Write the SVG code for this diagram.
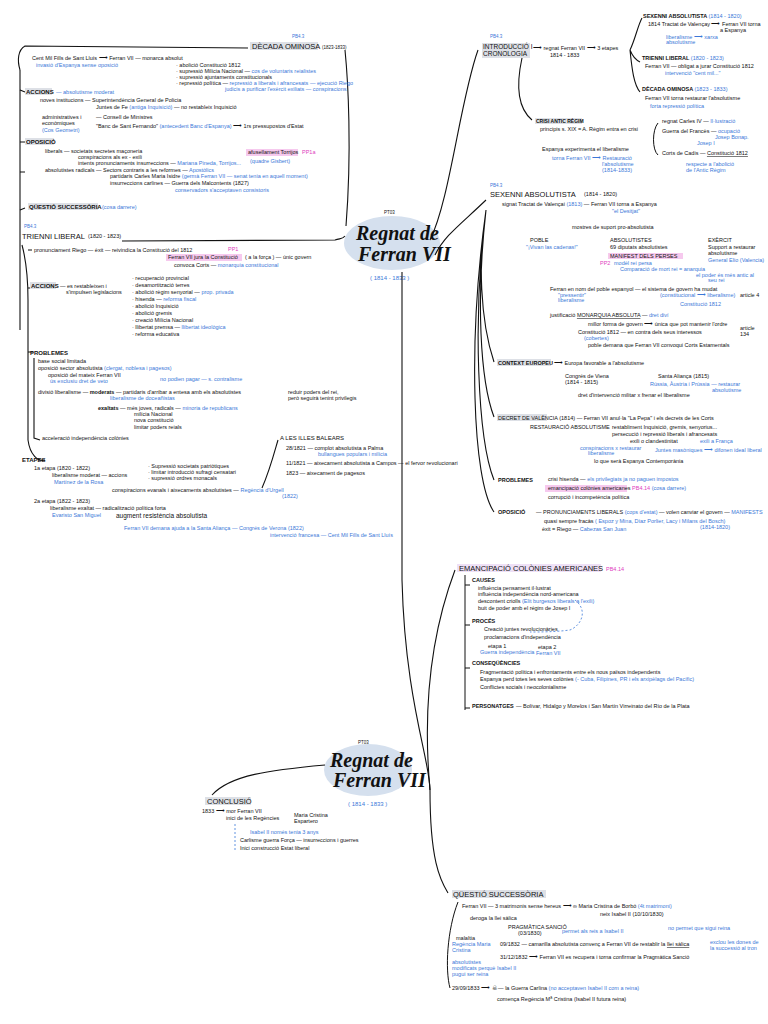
<svg xmlns="http://www.w3.org/2000/svg" width="768" height="1024" viewBox="0 0 768 1024">
<style>
text{font-family:"Liberation Sans",Arial,sans-serif;font-size:5.5px;fill:#111}
.b{fill:#3b78d8}
.p{fill:#e040c0}
.h{font-size:6px;font-weight:bold}
.h2{font-size:7.5px;font-weight:normal}
.t{font-family:"Liberation Serif",serif;font-size:20px;font-style:italic;font-weight:bold}
.c path,.c line{fill:none;stroke:#111;stroke-width:1.1}
.d{fill:none;stroke:#3b78d8;stroke-width:.8;stroke-dasharray:2 2}
.hl{fill:#dde0e6}
.hp{fill:#f6c9ee}
</style>
<rect width="768" height="1024" fill="#fff"/>
<g id="center1">
<ellipse cx="392" cy="243" rx="48" ry="27" fill="#d5e0ee"/>
<text x="384" y="214" style="font-size:4.5px">PT03</text>
<text class="t" x="356" y="240">Regnat de</text>
<text class="t" x="358" y="261">Ferran VII</text>
<text class="b" x="370" y="280" style="font-size:6px">( 1814 - 1833 )</text>
</g>
<g id="center2">
<ellipse cx="368" cy="770" rx="44" ry="26" fill="#d5e0ee"/>
<text x="358" y="744" style="font-size:4.5px">PT03</text>
<text class="t" x="330" y="767">Regnat de</text>
<text class="t" x="333" y="787">Ferran VII</text>
<text class="b" x="348" y="806" style="font-size:6px">( 1814 - 1833 )</text>
</g>
<g class="c" id="connectors">
<path d="M346 226 C352 150 348 80 345 50"/>
<path d="M248 48 L25 46 C18 50 17 60 20 70"/>
<path d="M20 70 L20 330"/>
<path d="M20 90 L25 92 M20 172 L25 172 M20 210 L25 208 M20 142 L25 142"/>
<path d="M345 236 C342 240 340 238 335 240 L122 241"/>
<path d="M22 245 C26 260 28 280 28 300 L28 440 C30 455 38 462 45 460"/>
<path d="M28 250 L32 250 M28 288 L35 288 M28 352 L33 352"/>
<path d="M34 358 L34 438 L40 440"/>
<path d="M430 240 C450 200 460 100 478 50"/>
<path d="M522 58 C515 90 520 110 532 120"/>
<path d="M630 50 C635 40 638 25 642 18 M630 50 C632 55 636 60 640 62 M630 50 C632 70 634 85 640 92"/>
<path d="M435 255 C445 235 460 225 486 200"/>
<path d="M486 210 C478 260 480 320 494 362 M486 210 C476 300 480 380 494 417 M486 210 C472 320 478 440 494 480 M486 210 C468 340 472 480 494 512"/>
<path d="M402 272 L402 580"/>
<path d="M402 580 C405 700 430 760 430 790"/>
<path d="M430 790 C420 680 440 610 455 570"/>
<path d="M430 790 C430 860 440 880 448 893"/>
<path d="M325 765 C270 770 230 775 212 795"/>
<path d="M262 488 C270 470 275 450 278 440"/>
</g>
<g id="decada">
<text x="292" y="38" class="b" style="font-size:4.5px">PB4.3</text>
<rect class="hl" x="250" y="42" width="68" height="8"/>
<text class="h2" x="252" y="49">DÈCADA OMINOSA</text>
<text x="322" y="49" style="font-size:4.5px">(1823-1833)</text>
<text x="32" y="60">Cent Mil Fills de Sant Lluís  ⟶  Ferran VII — monarca absolut</text>
<text class="b" x="36" y="67">invasió d'Espanya sense oposició</text>
<text x="176" y="67">· abolició Constitució 1812</text>
<text x="176" y="73">· supressió Milícia Nacional — <tspan class="b">cos de voluntaris reialistes</tspan></text>
<text x="176" y="79">· supressió ajuntaments constitucionals</text>
<text x="176" y="85">· repressió política — <tspan class="b">repressió a liberals i afrancesats — ejecució Riego</tspan></text>
<text class="b" x="225" y="91">judicis a purificar l'exèrcit    exiliats — conspiracions</text>
<rect class="hl" x="25" y="88" width="27" height="7"/>
<text class="h" x="26" y="94">ACCIONS</text>
<text class="b" x="56" y="94">— absolutisme moderat</text>
<text x="40" y="102">noves institucions — Superintendència General de Policia</text>
<text x="96" y="109">Juntes de Fe  <tspan class="b">(antiga Inquisició)</tspan> — no restableix Inquisició</text>
<text x="42" y="119">administratives i</text>
<text x="42" y="125">econòmiques</text>
<text x="96" y="119">— Consell de Ministres</text>
<text x="96" y="128">"Banc de Sant Fernando" <tspan class="b">(antecedent Banc d'Espanya)</tspan> ⟶ 1rs pressupostos d'Estat</text>
<text class="b" x="42" y="132">(Cos Geometri)</text>
<rect class="hl" x="25" y="138" width="29" height="7"/>
<text class="h" x="26" y="144">OPOSICIÓ</text>
<text x="45" y="153">liberals — societats secretes maçoneria</text>
<text x="78" y="159">conspiracions als ex - exili</text>
<text x="78" y="165">intents pronunciaments insurreccions — <tspan class="b">Mariana Pineda, Torrijos...</tspan></text>
<rect class="hp" x="246" y="149" width="52" height="7"/>
<text x="248" y="154">afusellament Torrijos</text>
<text class="p" x="302" y="154">PP1a</text>
<text class="b" x="250" y="163">(quadre Gisbert)</text>
<text x="45" y="172">absolutistes radicals — Sectors contraris a les reformes — <tspan class="b">Apostòlics</tspan></text>
<text x="110" y="178">partidaris Carles Maria Isidre  <tspan class="b">(germà Ferran VII — senat tenia en aquell moment)</tspan></text>
<text x="110" y="185">insurreccions carlines — Guerra dels Malcontents (1827)</text>
<text class="b" x="175" y="192">conservadors s'acceptaven consistoris</text>
<rect class="hl" x="28" y="203" width="70" height="7"/>
<text class="h" x="29" y="209">QÜESTIÓ SUCCESSÒRIA</text>
<text class="b" x="102" y="209">(cosa darrere)</text>
</g>
<g id="trienni">
<text x="24" y="228" class="b" style="font-size:4.5px">PB4.3</text>
<text class="h2" x="22" y="239">TRIENNI LIBERAL</text>
<text x="88" y="238">(1820 - 1823)</text>
<text x="34" y="252">pronunciament Riego — èxit — reivindica la Constitució del 1812</text>
<text class="p" x="228" y="251">PP1</text>
<rect class="hp" x="166" y="254" width="76" height="7"/>
<text x="168" y="259">Ferran VII jura la Constitució</text>
<text x="245" y="259">( a la força ) — únic govern</text>
<text x="174" y="267">convoca Corts — <tspan class="b">monarquia constitucional</tspan></text>
<rect class="hl" x="30" y="282" width="26" height="7"/>
<text class="h" x="31" y="288">ACCIONS</text>
<text x="60" y="288">— es restableixen i</text>
<text x="66" y="294">s'impulsen legislacions</text>
<text x="132" y="280">· recuperació provincial</text>
<text x="132" y="287">· desamortització terres</text>
<text x="132" y="294">· abolició règim senyorial — <tspan class="b">prop. privada</tspan></text>
<text x="132" y="301">· hisenda — <tspan class="b">reforma fiscal</tspan></text>
<text x="132" y="308">· abolició Inquisició</text>
<text x="132" y="315">· abolició gremis</text>
<text x="132" y="322">· creació Milícia Nacional</text>
<text x="132" y="329">· llibertat premsa — <tspan class="b">llibertat ideològica</tspan></text>
<text x="132" y="336">· reforma educativa</text>
<text class="h" x="30" y="355">PROBLEMES</text>
<text x="38" y="363">base social limitada</text>
<text x="38" y="370">oposició sector absolutista  <tspan class="b">(clergat, noblesa i pagesos)</tspan></text>
<text x="48" y="377">oposició del mateix Ferran VII</text>
<text class="b" x="50" y="383">ús exclusiu dret de veto</text>
<text class="b" x="160" y="381">no podien pagar — s. contralisme</text>
<text x="38" y="394">divisió liberalisme — <tspan style="font-weight:bold">moderats</tspan> — partidaris d'arribar a entesa amb els absolutistes</text>
<text class="b" x="110" y="400">liberalisme de doceañistas</text>
<text x="288" y="394">reduir poders del rei,</text>
<text x="288" y="400">però seguirà tenint privilegis</text>
<text x="98" y="410"><tspan style="font-weight:bold">exaltats</tspan> — més joves, radicals — <tspan class="b">minoria de republicans</tspan></text>
<text x="134" y="416">milícia Nacional</text>
<text x="134" y="422">nova constitució</text>
<text x="134" y="429">limitar poders reials</text>
<text x="42" y="440">acceleració independència colònies</text>
<text class="h" x="22" y="462">ETAPES</text>
<text x="34" y="470">1a etapa (1820 - 1822)</text>
<text x="52" y="477">liberalisme moderat — accions</text>
<text class="b" x="54" y="484">Martínez de la Rosa</text>
<text x="148" y="468">· Supressió societats patriòtiques</text>
<text x="148" y="474">· limitar introducció sufragi censatari</text>
<text x="148" y="480">· supressió ordres monacals</text>
<text x="112" y="492">conspiracions evanals i aixecaments absolutistes — <tspan class="b">Regència d'Urgell</tspan></text>
<text class="b" x="282" y="498">(1822)</text>
<text x="34" y="503">2a etapa (1822 - 1823)</text>
<text x="50" y="510">liberalisme exaltat — radicalització política forta</text>
<text class="b" x="52" y="517">Evaristo San Miguel</text>
<text x="116" y="518" style="font-size:6.5px">augment resistència absolutista</text>
<text class="b" x="124" y="530">Ferran VII demana ajuda a la Santa Aliança — Congrés de Verona (1822)</text>
<text class="b" x="270" y="537">intervenció francesa — Cent Mil Fills de Sant Lluís</text>
<text x="280" y="440" style="font-size:6px">A LES ILLES BALEARS</text>
<text x="286" y="450">28/1821 — complot absolutista a Palma</text>
<text class="b" x="318" y="456">bullangues populars i milícia</text>
<text x="286" y="465">11/1821 — aixecament absolutista a Campos — el fervor revolucionari</text>
<text x="286" y="475">1823 — aixecament de pagesos</text>
</g>
<g id="intro">
<text x="490" y="38" class="b" style="font-size:4.5px">PB4.3</text>
<rect class="hl" x="482" y="43" width="48" height="15"/>
<text x="483" y="49" style="font-size:6.5px">INTRODUCCIÓ I</text>
<text x="483" y="56" style="font-size:6.5px">CRONOLOGIA</text>
<text x="533" y="50">⟶ regnat Ferran VII ⟶ 3 etapes</text>
<text x="550" y="57">1814 - 1833</text>
<text class="h" x="643" y="18" style="font-size:5.5px">SEXENNI ABSOLUTISTA <tspan class="b" style="font-weight:normal">(1814 - 1820)</tspan></text>
<text x="648" y="26">1814 Tractat de Valençay ⟶ Ferran VII torna</text>
<text x="720" y="32">a Espanya</text>
<text class="b" x="666" y="39">liberalisme ⟶ xarxa</text>
<text class="b" x="666" y="44">absolutisme</text>
<text class="h" x="642" y="60" style="font-size:5.5px">TRIENNI LIBERAL <tspan class="b" style="font-weight:normal">(1820 - 1823)</tspan></text>
<text x="645" y="68">Ferran VII — obligat a jurar Constitució 1812</text>
<text class="b" x="665" y="75">intervenció "cent mil..."</text>
<text class="h" x="642" y="91" style="font-size:5.5px">DÈCADA OMINOSA <tspan class="b" style="font-weight:normal">(1823 - 1833)</tspan></text>
<text x="645" y="100">Ferran VII torna restaurar l'absolutisme</text>
<text class="b" x="650" y="108">forta repressió política</text>
<rect class="hl" x="535" y="118" width="47" height="6"/>
<text class="h" x="536" y="123" style="font-size:5px">CRISI ANTIC RÈGIM</text>
<text x="540" y="131">principis s. XIX = A. Règim entra en crisi</text>
<text x="542" y="151">Espanya experimenta el liberalisme</text>
<text class="b" x="552" y="160">torna Ferran VII ⟶ Restauració</text>
<text class="b" x="602" y="166">l'absolutisme</text>
<text class="b" x="602" y="172">(1814-1833)</text>
<text x="662" y="123">regnat Carles IV — <tspan class="b">Il·lustració</tspan></text>
<text x="662" y="133">Guerra del Francès — <tspan class="b">ocupació</tspan></text>
<text class="b" x="715" y="139">Josep Bonap.</text>
<text class="b" x="697" y="145">Josep I</text>
<text x="662" y="155">Corts de Cadis — <tspan style="text-decoration:underline">Constitució 1812</tspan></text>
<text class="b" x="686" y="166">respecte a l'abolició</text>
<text class="b" x="686" y="172">de l'Antic Règim</text>
<path fill="none" stroke="#111" d="M658 123 C652 130 652 150 658 155"/>
</g>
<g id="sexenni">
<text x="490" y="187" class="b" style="font-size:4.5px">PB4.3</text>
<text class="h2" x="490" y="197">SEXENNI ABSOLUTISTA</text>
<text x="584" y="196">(1814 - 1820)</text>
<text x="502" y="206">signat Tractat de Valençai <tspan class="b">(1813)</tspan> — Ferran VII torna a Espanya</text>
<text class="b" x="612" y="213">"el Desitjat"</text>
<text x="572" y="229">mostres de suport pro-absolutista</text>
<text x="530" y="242">POBLE</text>
<text class="b" x="526" y="249">"¡Vivan las cadenas!"</text>
<text x="610" y="242">ABSOLUTISTES</text>
<text x="610" y="249">69 diputats absolutistes</text>
<rect class="hp" x="608" y="253" width="75" height="6"/>
<text x="610" y="258">MANIFEST DELS PERSES</text>
<text class="p" x="600" y="265">PP2</text>
<text class="b" x="614" y="265">modèl rei persa</text>
<text class="b" x="620" y="271">Comparació de mort rei = anarquia</text>
<text class="b" x="696" y="277">el poder és més antic al</text>
<text class="b" x="708" y="282">seu rei</text>
<text x="708" y="242">EXÈRCIT</text>
<text x="708" y="249">Support a restaurar</text>
<text x="708" y="255">absolutisme</text>
<text class="b" x="708" y="262">General Elio (Valencia)</text>
<text x="550" y="291">Ferran en nom del poble espanyol — el sistema de govern ha mudat</text>
<text class="b" x="558" y="297">"pressentir"</text>
<text class="b" x="558" y="302">liberalisme</text>
<text class="b" x="660" y="297">(constitucional ⟶ liberalisme)</text>
<text class="b" x="680" y="306">Constitució 1812</text>
<text x="740" y="297">article 4</text>
<text x="550" y="317">justificació <tspan style="text-decoration:underline">MONARQUIA ABSOLUTA</tspan> — <tspan class="b">dret diví</tspan></text>
<text x="588" y="326">millor forma de govern ⟶ única que pot mantenir l'ordre</text>
<text x="578" y="334">Constitució 1812 — en contra dels seus interessos</text>
<text class="b" x="584" y="340">(cobertes)</text>
<text x="588" y="347">poble demana que Ferran VII convoqui Corts Estamentals</text>
<text x="740" y="330">article</text>
<text x="740" y="336">134</text>
<rect class="hl" x="497" y="359" width="54" height="7"/>
<text class="h" x="498" y="365" style="font-size:5.5px">CONTEXT EUROPEU</text>
<text x="554" y="365">⟶ Europa favorable a l'absolutisme</text>
<text x="565" y="378">Congrés de Viena</text>
<text x="565" y="384">(1814 - 1815)</text>
<text x="658" y="378">Santa Aliança (1815)</text>
<text class="b" x="650" y="386">Rússia, Àustria i Prússia — restaurar</text>
<text class="b" x="712" y="392">absolutisme</text>
<text x="578" y="397">dret d'intervenció militar x frenar el liberalisme</text>
<rect class="hl" x="497" y="414" width="50" height="7"/>
<text x="498" y="420">DECRET DE VALÈNCIA (1814) — Ferran VII anul·la "La Pepa" i els decrets de les Corts</text>
<text x="530" y="429">RESTAURACIÓ ABSOLUTISME</text>
<text x="612" y="429">restabliment Inquisició, gremis, senyorius...</text>
<text x="612" y="436">persecució i repressió liberals i afrancesats</text>
<text x="630" y="443">exili o clandestinitat</text>
<text class="b" x="700" y="443">exili a França</text>
<text class="b" x="580" y="450">conspiracions x restaurar</text>
<text class="b" x="588" y="455">liberalisme</text>
<text class="b" x="655" y="452">Juntes masòniques ⟶ difonen ideal liberal</text>
<text x="594" y="463">lo que serà Espanya Contemporània</text>
<text class="h" x="498" y="482" style="font-size:5.5px">PROBLEMES</text>
<text x="548" y="481">crisi hisenda — <tspan class="b">els privilegiats ja no paguen impostos</tspan></text>
<rect class="hp" x="545" y="485" width="82" height="7"/>
<text x="548" y="490">emancipació colònies americanes  <tspan class="p">PB4.14</tspan> <tspan class="b">(cosa darrere)</tspan></text>
<text x="548" y="499">corrupció i incompetència política</text>
<text class="h" x="498" y="514" style="font-size:5.5px">OPOSICIÓ</text>
<text x="536" y="514">— PRONUNCIAMENTS LIBERALS <tspan class="b">(cops d'estat)</tspan> — volen canviar el govern — <tspan class="b">MANIFESTS</tspan></text>
<text x="544" y="523">quasi sempre fracàs <tspan class="b">( Espoz y Mina, Díaz Porlier, Lacy i Milans del Bosch)</tspan></text>
<text class="b" x="700" y="529">(1814-1820)</text>
<text x="542" y="531">èxit = Riego — <tspan class="b">Cabezas San Juan</tspan></text>
</g>
<g id="emancipacio">
<rect fill="#eee0f6" x="457" y="564" width="144" height="8"/>
<text class="h2" x="459" y="571">EMANCIPACIÓ COLÒNIES AMERICANES</text>
<text class="p" x="606" y="571">PB4.14</text>
<text class="h" x="472" y="582" style="font-size:5.5px">CAUSES</text>
<text x="478" y="590">influència pensament il·lustrat</text>
<text x="478" y="596">influència independència nord-americana</text>
<text x="478" y="603">descontent criolls <tspan class="b">(Elit burgesos liberals a l'exili)</tspan></text>
<text x="478" y="610">buit de poder amb el régim de Josep I</text>
<text class="h" x="472" y="623" style="font-size:5.5px">PROCÉS</text>
<text x="484" y="631">Creació juntes revolucionàries</text>
<text x="484" y="639">proclamacions d'independència</text>
<text x="488" y="648">etapa 1</text><text x="538" y="649">etapa 2</text>
<text class="b" x="480" y="654">Guerra independència</text><text class="b" x="536" y="655">Ferran VII</text>
<text class="h" x="472" y="665" style="font-size:5.5px">CONSEQÜÈNCIES</text>
<text x="480" y="674">Fragmentació política i enfrontaments entre els nous països independents</text>
<text x="480" y="681">Espanya perd totes les seves colònies <tspan class="b">(- Cuba, Filipines, PR i els arxipèlags del Pacífic)</tspan></text>
<text x="480" y="689">Conflictes socials i neocolonialisme</text>
<text class="h" x="472" y="708" style="font-size:5.5px">PERSONATGES</text>
<text x="516" y="708">— Bolívar, Hidalgo y Morelos i San Martín Virreinato del Río de la Plata</text>
<path class="d" d="M575 600 C588 610 582 625 570 630 C555 632 540 632 530 632"/>
<path fill="none" stroke="#111" stroke-width="1" d="M465 575 L465 710 M465 585 L470 585 M465 625 L470 625 M465 668 L470 668 M465 708 L470 708"/>
</g>
<g id="conclusio">
<rect class="hl" x="205" y="797" width="46" height="8"/>
<text class="h2" x="207" y="804">CONCLUSIÓ</text>
<text x="202" y="813">1833 ⟶ mor Ferran VII</text>
<text x="226" y="820">inici de les Regències</text>
<text x="294" y="817">Maria Cristina</text>
<text x="294" y="823">Espartero</text>
<text class="b" x="250" y="834">Isabel II només tenia 3 anys</text>
<text x="240" y="842">Carlisme guerra Força — insurreccions i guerres</text>
<text x="240" y="850">Inici construcció Estat liberal</text>
<path class="d" d="M235 824 L235 850"/>
</g>
<g id="questio">
<rect class="hl" x="452" y="890" width="94" height="8"/>
<text class="h2" x="453" y="897">QÜESTIÓ SUCCESSÒRIA</text>
<text x="462" y="908">Ferran VII — 3 matrimonis sense hereus ⟶ ∞ Maria Cristina de Borbó <tspan class="b">(4t matrimoni)</tspan></text>
<text x="600" y="916">neix Isabel II (10/10/1830)</text>
<text x="470" y="920">deroga la llei sàlica</text>
<text x="508" y="929">PRAGMÀTICA SANCIÓ</text>
<text x="518" y="935">(03/1830)</text>
<text class="b" x="562" y="933">permet als reis a Isabel II</text>
<text class="b" x="668" y="930">no permet que sigui reina</text>
<text x="456" y="940">malaltia</text>
<text class="b" x="452" y="946">Regència Maria</text>
<text class="b" x="452" y="952">Cristina</text>
<text x="500" y="946">09/1832 — camarilla absolutista convenç a Ferran VII de restablir la <tspan style="text-decoration:underline">llei sàlica</tspan></text>
<text class="b" x="710" y="944">exclou les dones de</text>
<text class="b" x="710" y="950">la successió al tron</text>
<text x="500" y="959">31/12/1832 ⟶ Ferran VII es recupera i torna confirmar la Pragmàtica Sanció</text>
<text class="b" x="452" y="964">absolutistes</text>
<text class="b" x="452" y="970">modificats perquè Isabel II</text>
<text class="b" x="452" y="976">pugui ser reina</text>
<text x="452" y="990">29/09/1833 ⟶ ☠ — la Guerra Carlina <tspan class="b">(no acceptaven Isabel II com a reina)</tspan></text>
<text x="497" y="1001">comença Regència Mª Cristina (Isabel II futura reina)</text>
<path fill="none" stroke="#111" stroke-width="1" d="M458 902 C447 930 445 970 450 988"/>
</g>
</svg>
